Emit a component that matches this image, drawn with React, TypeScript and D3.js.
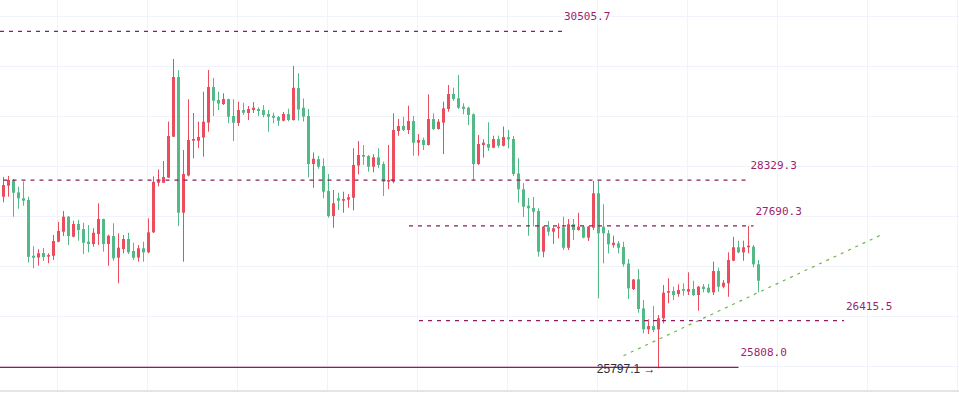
import React from "react";
import * as d3 from "d3";

// OHLC per candle (index 0..151)
const opens = [28096,28250,28326,28157,28074,28050,27282,27259,27320,27270,27282,27474,27611,27818,27542,27717,27648,27474,27443,27579,27786,27443,27552,27256,27374,27511,27347,27259,27384,27329,27603,28292,28292,28363,28947,29820,27873,28394,28890,28890,28936,29150,29672,29481,29422,29495,29247,29145,29334,29291,29334,29349,29334,29276,29251,29232,29178,29276,29189,29657,29368,29247,28557,28625,28528,28176,27828,28074,28040,28054,28082,28536,28685,28671,28518,28652,28557,28306,28306,29029,29102,29044,29174,28861,28900,28828,29203,29058,29150,29349,29569,29506,29383,29368,29272,28557,28828,28842,28789,28914,28818,28939,28914,28422,28200,27970,27939,27897,27338,27672,27611,27658,27672,27392,27713,27634,27680,27529,27666,28144,27680,27589,27429,27452,27402,27177,26835,26965,26578,26302,26345,26302,26447,26786,26808,26768,26835,26799,26835,26755,26866,26852,26791,27076,26866,26911,27215,27398,27329,27398,27406,27167];
const highs = [28373,28387,28344,28236,28309,28096,27412,27371,27388,27316,27566,27745,27897,27828,27762,27772,27735,27703,27658,28004,27790,27570,27727,27589,27566,27597,27460,27429,27474,27796,28383,28481,28599,29167,30088,29921,28756,29492,29291,29164,29603,29924,29805,29603,29579,29500,29492,29456,29441,29393,29451,29374,29407,29334,29295,29247,29305,29353,29984,29875,29503,29349,28721,28671,28638,28415,28190,28152,28166,28134,28781,28885,28828,28685,28695,28781,28590,28828,29286,29203,29237,29397,29247,28986,28933,29564,29286,29203,29456,29702,29662,29850,29432,29383,29286,28972,28910,29155,28962,28962,29094,29044,28957,28638,28288,28078,28092,27935,27689,27758,27680,27727,27818,27786,27786,27873,27689,27689,28316,28316,27990,27634,27556,27483,27474,27238,26969,27103,26688,26433,26609,26490,26888,26978,26866,26898,26911,27059,26946,26875,26902,26902,27202,27121,26955,27329,27542,27488,27488,27690.3,27429,27225];
const lows = [28018,28096,27818,27929,27970,27191,27113,27148,27211,27180,27225,27466,27552,27429,27534,27488,27306,27329,27406,27429,27338,27148,27215,26911,27316,27306,27225,27202,27202,27316,27593,28242,28288,28359,28943,27689,27202,28380,28638,28785,28661,29019,29247,29334,29407,29141,28885,29102,29262,29189,29291,29247,29228,29019,29141,29102,29170,29170,29180,29181,29167,28366,28222,28490,28074,27804,27666,27911,27873,27943,27906,28411,28543,28448,28439,28496,28106,28204,28284,28962,29029,28986,28675,28675,28756,28820,29044,29051,28699,29310,29470,29349,29272,29116,28330,28543,28646,28742,28781,28789,28807,28781,28387,28012,27814,27556,27682,27270,27262,27556,27443,27520,27361,27361,27497,27625,27520,27483,27634,26711,27180,27316,27392,27316,27135,26702,26822,26520,26248,26241,26263,25797.1,26381,26645,26688,26732,26746,26755,26741,26547,26791,26778,26755,26799,26844,26732,27211,27316,27215,27316,27126,26791];
const closes = [28260,28330,28152,28074,28040,27268,27256,27317,27266,27292,27483,27621,27818,27552,27717,27634,27460,27443,27597,27786,27443,27556,27248,27392,27511,27329,27256,27384,27329,27603,28305,28316,28373,28957,29820,27873,28415,28900,28914,28943,29164,29672,29470,29429,29495,29237,29150,29334,29295,29349,29368,29320,29262,29237,29222,29178,29276,29189,29660,29342,29237,28557,28632,28518,28166,27828,28004,28040,28064,28088,28543,28685,28661,28518,28652,28543,28306,28330,29044,29102,29044,29174,28861,28900,28828,29203,29058,29164,29359,29569,29495,29368,29349,29262,28557,28842,28861,28789,28914,28818,28943,28910,28415,28200,27957,27935,27887,27338,27680,27611,27658,27680,27392,27713,27634,27680,27529,27680,28144,27589,27589,27438,27460,27392,27167,26844,26962,26569,26302,26345,26293,26447,26786,26808,26755,26822,26812,26835,26755,26866,26835,26791,27076,26866,26919,27225,27398,27329,27398,27420,27167,26946];

// Horizontal level lines
const levelPrices = [30505.7, 28329.3, 27690.3, 26415.5, 25808.0];
const levelLabels = ["30505.7", "28329.3", "27690.3", "26415.5", "25808.0"];
const levelStart = [-1, 0, 81.1, 83.1, -1];
const levelEnd = [111.7, 149, 150, 168.1, 147];
const levelDashed = [true, true, true, true, false];

// Trend line (candle index, price)
const trendIdx = [124, 175.5];
const trendPrice = [25959, 27566];

// Low marker
const lowIndex = 131;
const lowPrice = 25797.1;

// Grid
const gridPrices = [30734, 29979, 29243, 28524, 27823, 27140, 26473, 25822];
const gridTimeIdx = [11, 29, 47, 65, 83, 101, 119, 137, 155, 173, 191];

const W = 959;
const H = 398;
const UP = "#eb4d5c";
const DOWN = "#53b987";
const LINE = "#8e1b5f";
const LABEL = "#9c1f6d";
const MONO = "'DejaVu Sans Mono', 'Liberation Mono', monospace";
const SANS = "'Liberation Sans', Arial, sans-serif";

export default function App() {
  const x = d3.scaleLinear().domain([0, 151]).range([3.5, 758.5]);
  const y = d3.scaleLog().domain([25797.1, 30505.7]).range([368.3, 31.3]);

  const candles = opens.map((o, i) => ({ o, h: highs[i], l: lows[i], c: closes[i], i }));

  return (
    <svg width={W} height={H} style={{ position: "absolute", left: 0, top: 0, background: "#fff" }}>
      <rect x={0} y={0} width={W} height={H} fill="#ffffff" />
      {gridPrices.map((p, k) => (
        <line key={"gh" + k} x1={0} x2={W} y1={Math.round(y(p)) + 0.5} y2={Math.round(y(p)) + 0.5} stroke="#f0f3fa" strokeWidth={1} />
      ))}
      {gridTimeIdx.map((t, k) => (
        <line key={"gv" + k} x1={Math.floor(x(t)) - 0.5} x2={Math.floor(x(t)) - 0.5} y1={0} y2={390} stroke="#f0f3fa" strokeWidth={1} />
      ))}
      <rect x={0} y={390} width={W} height={2} fill="#e3e5ea" />

      {candles.map((d) => {
        const up = d.c >= d.o;
        const col = up ? UP : DOWN;
        const cx = x(d.i);
        const yt = y(Math.max(d.o, d.c));
        const yb = y(Math.min(d.o, d.c));
        return (
          <g key={"c" + d.i}>
            <line x1={cx} x2={cx} y1={y(d.h)} y2={y(d.l)} stroke={col} strokeWidth={1} />
            <rect x={cx - 1.5} y={yt} width={3} height={Math.max(1, yb - yt)} fill={col} />
          </g>
        );
      })}

      {levelPrices.map((p, k) => {
        const yy = y(p);
        const x1 = Math.max(0, x(levelStart[k]));
        const x2 = x(levelEnd[k]);
        return (
          <g key={"lv" + k}>
            <line
              x1={x1}
              x2={x2}
              y1={yy}
              y2={yy}
              stroke={levelDashed[k] ? LINE : "#a0135f"}
              strokeWidth={levelDashed[k] ? 1.3 : 1.2}
              strokeDasharray={levelDashed[k] ? "4,5" : undefined}
            />
            <text x={x2 + 2} y={yy - 11} fill={LABEL} fontFamily={MONO} fontSize={11}>
              {levelLabels[k]}
            </text>
          </g>
        );
      })}

      <line
        x1={x(trendIdx[0])}
        y1={y(trendPrice[0])}
        x2={x(trendIdx[1])}
        y2={y(trendPrice[1])}
        stroke="#6fb548"
        strokeWidth={1.2}
        strokeDasharray="3,5"
      />

      <text
        x={x(lowIndex) - 3}
        y={y(lowPrice) + 4.5}
        textAnchor="end"
        fill="#2a2e39"
        fontFamily={SANS}
        fontSize={12}
      >
        {lowPrice.toFixed(1) + " →"}
      </text>
    </svg>
  );
}
